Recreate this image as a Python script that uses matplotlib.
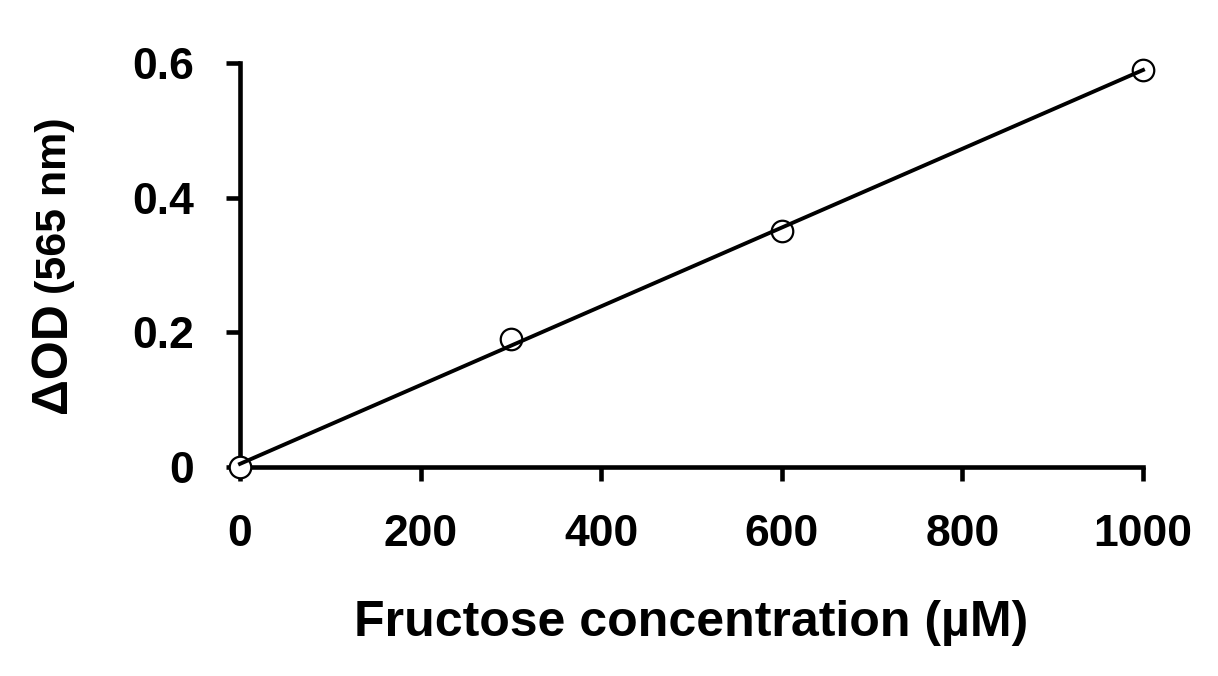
import numpy as np
import matplotlib
matplotlib.use("Agg")
import matplotlib.pyplot as plt

# fructose standards
concentration = [0, 300, 600, 1000]
delta_od = [0.0, 0.19, 0.35, 0.59]
x_ticks = [0, 200, 400, 600, 800, 1000]
y_ticks = [0, 0.2, 0.4, 0.6]
y_tick_labels = ["0", "0.2", "0.4", "0.6"]

plt.rcParams['font.family'] = ['Liberation Sans', 'DejaVu Sans']
plt.rcParams['font.weight'] = 'bold'

fig = plt.figure(figsize=(12.18, 6.76), dpi=100)
ax = fig.add_axes([240 / 1218, 1 - 467 / 676, (1143 - 240) / 1218, (467 - 63) / 676])

# linear trendline through the standards
slope, intercept = np.polyfit(concentration, delta_od, 1)
fit_x = np.array([concentration[0], concentration[-1]])
ax.plot(concentration, delta_od, 'o', markersize=15.5, markerfacecolor='white',
        markeredgecolor='black', markeredgewidth=1.6, clip_on=False, zorder=3)
ax.plot(fit_x, slope * fit_x + intercept, color='black', linewidth=2.8,
        clip_on=False, zorder=4)

ax.set_xlim(0, 1000)
ax.set_ylim(0, 0.6)
ax.set_xticks(x_ticks)
ax.set_yticks(y_ticks)
ax.set_yticklabels(y_tick_labels)

for side in ['top', 'right']:
    ax.spines[side].set_visible(False)
for side in ['left', 'bottom']:
    ax.spines[side].set_linewidth(3.3)
ax.tick_params(axis='both', direction='out', length=10, width=3.3,
               labelsize=32)
ax.tick_params(axis='x', pad=24)
ax.tick_params(axis='y', pad=23)
for lab in ax.get_xticklabels() + ax.get_yticklabels():
    lab.set_fontweight('bold')

ax.set_xlabel("Fructose concentration (\u00b5M)", fontsize=36,
              fontweight='bold', labelpad=32)

# y label in two sizes, baselines lined up
fig.text(66 / 1218, 1 - 413 / 676, "\u0394OD", rotation=90, rotation_mode='anchor',
         ha='left', va='baseline', fontsize=36, fontweight='bold')
fig.text(66 / 1218, 1 - 294 / 676, "(565 nm)", rotation=90, rotation_mode='anchor',
         ha='left', va='baseline', fontsize=31, fontweight='bold')

fig.savefig("out.png", dpi=100)
